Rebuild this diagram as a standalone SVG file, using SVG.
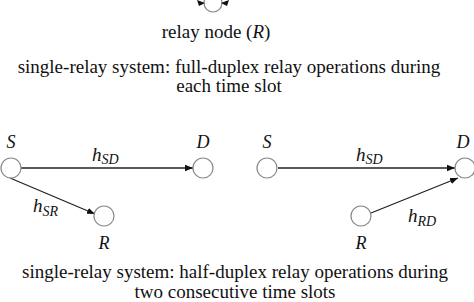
<svg xmlns="http://www.w3.org/2000/svg" width="474" height="302" viewBox="0 0 474 302" font-family="'Liberation Serif', 'Times New Roman', serif">
<style>
text{font-family:'Liberation Serif','Times New Roman',serif;fill:#111}
.t{font-size:19px;text-anchor:middle}
.l{font-size:18px;font-style:italic;text-anchor:middle}
.h{font-size:19px;font-style:italic}
.sub{font-size:14px;font-style:italic}
.n{fill:#fff;stroke:#888;stroke-width:1.2}
.e{stroke:#222;stroke-width:1.3;fill:none}
</style>
<defs>
<marker id="ah" viewBox="0 0 10 10" refX="10" refY="5" markerWidth="8" markerHeight="8" markerUnits="userSpaceOnUse" orient="auto">
<path d="M0,1 L10,5 L0,9 Z" fill="#111"/>
</marker>
</defs>
<rect width="474" height="302" fill="#fff"/>
<g id="relay-top">
<circle class="n" cx="213" cy="3" r="9"/>
<path d="M197,0 L205,3 L199,6 Z" fill="#111"/>
<path d="M229,0 L221,3 L227,6 Z" fill="#111"/>
</g>
<text class="t" x="216" y="38">relay node (<tspan font-style="italic">R</tspan>)</text>
<text class="t" x="229" y="73">single-relay system: full-duplex relay operations during</text>
<text class="t" x="229" y="92">each time slot</text>
<g id="connectors">
<line class="e" x1="21" y1="168" x2="193" y2="168" marker-end="url(#ah)"/>
<line class="e" x1="10" y1="178" x2="95" y2="214" marker-end="url(#ah)"/>
<line class="e" x1="278" y1="168" x2="455" y2="168" marker-end="url(#ah)"/>
<line class="e" x1="371" y1="213" x2="458" y2="178" marker-end="url(#ah)"/>
</g>
<g id="S1"><circle class="n" cx="11" cy="168" r="10"/><text class="l" x="11" y="148">S</text></g>
<g id="D1"><circle class="n" cx="203" cy="168" r="10"/><text class="l" x="203" y="148">D</text></g>
<g id="R1"><circle class="n" cx="104" cy="216" r="10"/><text class="l" x="104" y="249">R</text></g>
<g id="S2"><circle class="n" cx="267" cy="168" r="10"/><text class="l" x="267" y="148">S</text></g>
<g id="D2"><circle class="n" cx="465" cy="168" r="10"/><text class="l" x="463" y="148">D</text></g>
<g id="R2"><circle class="n" cx="361" cy="216" r="10"/><text class="l" x="361" y="249">R</text></g>
<text class="h" x="92" y="161">h<tspan class="sub" dy="3">SD</tspan></text>
<text class="h" x="33" y="212">h<tspan class="sub" dy="4">SR</tspan></text>
<text class="h" x="356" y="161">h<tspan class="sub" dy="3">SD</tspan></text>
<text class="h" x="408" y="222">h<tspan class="sub" dy="4">RD</tspan></text>
<text class="t" x="235" y="278">single-relay system: half-duplex relay operations during</text>
<text class="t" x="235" y="298">two consecutive time slots</text>
</svg>
